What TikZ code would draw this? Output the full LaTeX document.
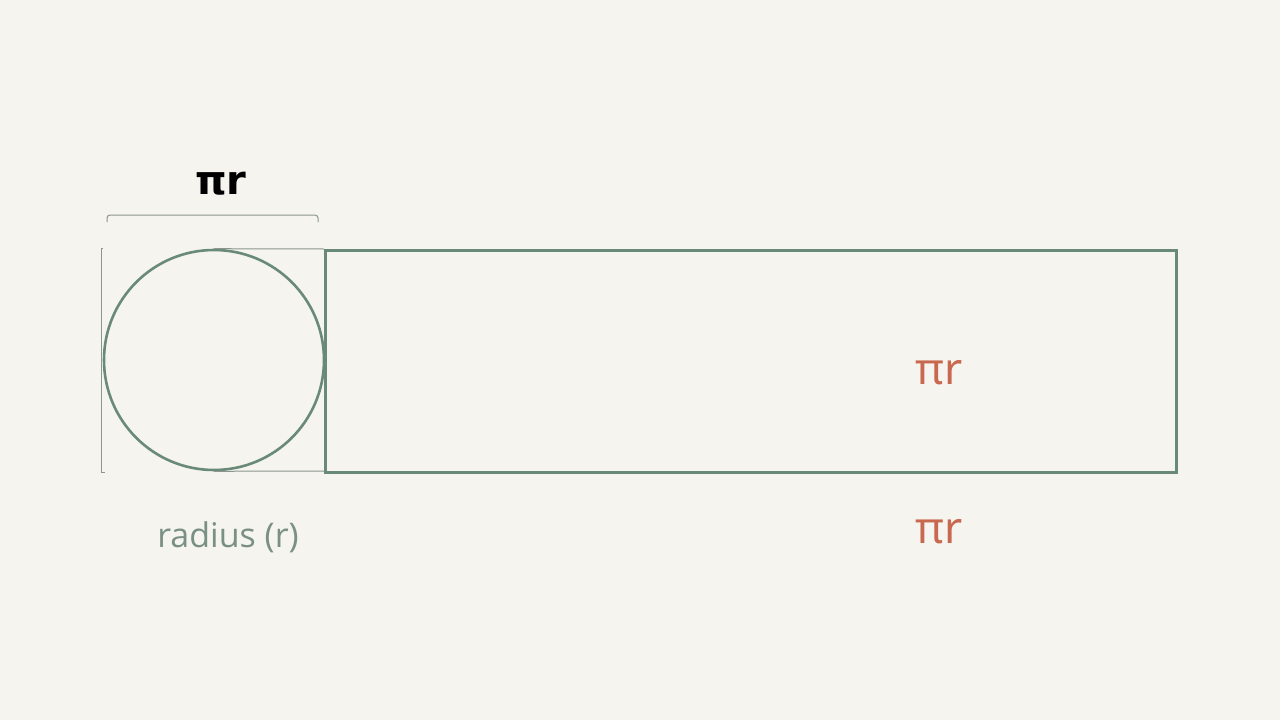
\documentclass[tikz,border=0pt]{standalone}
\usepackage{fontspec}
\setmainfont{Open Sans}
\newfontfamily\pifont{Noto Sans}
\newfontfamily\piboldfont{DejaVu Sans}
\definecolor{bg}{HTML}{F5F4EF}
\definecolor{sage}{HTML}{6A8A79}
\definecolor{thin}{HTML}{8A968F}
\definecolor{rust}{HTML}{C8694F}
\definecolor{labgray}{HTML}{7A9084}
\tikzset{
  thickline/.style={draw=sage, line width=2.6pt},
  thinline/.style={draw=thin, line width=1pt},
  pilabel/.style={text=rust, font=\pifont\fontsize{44}{48}\selectfont, inner sep=0pt},
}
\begin{document}
\begin{tikzpicture}[x=1pt,y=-1pt]
\fill[bg] (0,0) rectangle (1280,720);
\useasboundingbox (0,0) rectangle (1280,720);
% circle
\node[circle, thickline, minimum size=220pt, inner sep=0pt] (circ) at (214,360) {};
% square guide lines (thin)
\coordinate (sqtr) at (324,249);
\coordinate (sqbr) at (324,471);
\draw[thinline] (circ.north) -- (sqtr);
\draw[thinline] (circ.south) -- (sqbr);
\draw[thinline] (sqtr) -- (sqbr);
% left thin bracket
\coordinate (lt) at (101,248);
\coordinate (lb) at (101,472);
\draw[thinline] ([xshift=2]lt) -- (lt) -- (lb) -- ([xshift=4]lb);
% rectangle
\node[thickline, minimum width=851pt, minimum height=222pt, inner sep=0pt, anchor=north west] (rect) at (324,249) {};
% top brace
\coordinate (bl) at (107,222);
\coordinate (br) at (318,222);
\draw[thinline, rounded corners=3pt] (bl) -- (107,215) -- (318,215) -- (br);
% labels
\node[font=\piboldfont\bfseries\fontsize{40}{44}\selectfont, inner sep=0pt] (toppi) at (221,184) {πr};
\node[pilabel] (midpi) at (939,373) {πr};
\node[pilabel] (botpi) at (939,532) {πr};
\node[text=labgray, font=\fontsize{34}{38}\selectfont, inner sep=0pt] (rad) at (228,537) {radius (r)};
\end{tikzpicture}
\end{document}
